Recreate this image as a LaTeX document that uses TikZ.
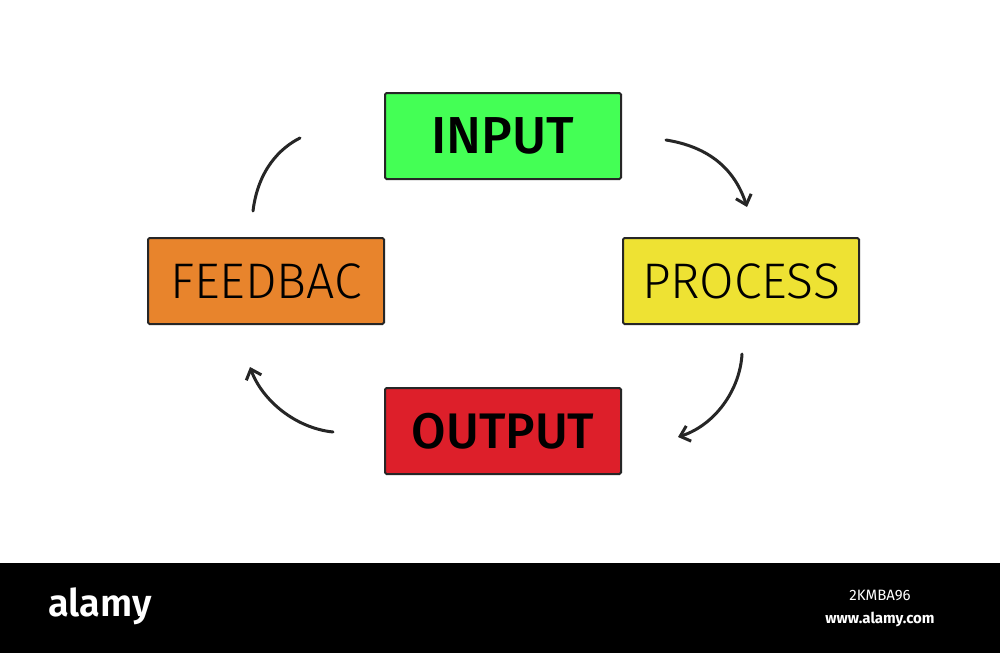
\documentclass[tikz,border=0pt]{standalone}
\usepackage{fontspec}
\setmainfont{Fira Sans}
\usetikzlibrary{arrows.meta}
\definecolor{cin}{HTML}{44FF55}
\definecolor{cpr}{HTML}{EEE233}
\definecolor{cou}{HTML}{DD1F2A}
\definecolor{cfb}{HTML}{E8842C}
\tikzset{
 stage/.style={draw=black!85,line width=2pt,rounded corners=1.5pt,minimum width=236pt,minimum height=86pt,inner sep=0pt,font=\fontsize{50}{50}\selectfont},
 conn/.style={line width=3pt,black!85,line cap=round},
 arr/.style={conn,-{Straight Barb[length=9pt,width=16pt]}}
}
\begin{document}
\begin{tikzpicture}[x=1pt,y=-1pt]
\useasboundingbox (0,0) rectangle (1000,653);
\fill[white] (0,0) rectangle (1000,563);
\fill[black] (0,563) rectangle (1000,653);
\node[stage,fill=cin,font=\fontsize{52}{52}\selectfont\addfontfeature{FakeBold=0}] (in) at (503,136) {\textsf{\fontspec{Fira Sans Medium}INPUT}};
\node[stage,fill=cpr] (pr) at (741,281) {\fontspec{Fira Sans Light}PROCESS};
\node[stage,fill=cou] (ou) at (503,431) {\fontspec{Fira Sans Medium}OUTPUT};
\node[stage,fill=cfb] (fb) at (266,281) {\fontspec{Fira Sans Light}FEEDBAC};
\coordinate (a1) at (666,140); \coordinate (a2) at (747,207);
\coordinate (b1) at (742,354); \coordinate (b2) at (678,437);
\coordinate (c1) at (333,432); \coordinate (c2) at (250,367);
\coordinate (d1) at (253,211); \coordinate (d2) at (300,138);
\draw[arr] (a1) .. controls (710,147) and (735,170) .. (a2);
\draw[arr] (b1) .. controls (740,390) and (715,425) .. (b2);
\draw[arr] (c1) .. controls (295,428) and (262,400) .. (c2);
\draw[conn] (d1) .. controls (258,170) and (280,148) .. (d2);
\node[white,font=\fontspec{Fira Sans SemiBold}\fontsize{38}{38}\selectfont] (logo) at (100,606) {alamy};
\node[white,font=\fontsize{15}{15}\selectfont] (id) at (880,595) {2KMBA96};
\node[white,font=\bfseries\fontsize{15}{15}\selectfont] (url) at (880,619) {www.alamy.com};
\end{tikzpicture}
\end{document}
